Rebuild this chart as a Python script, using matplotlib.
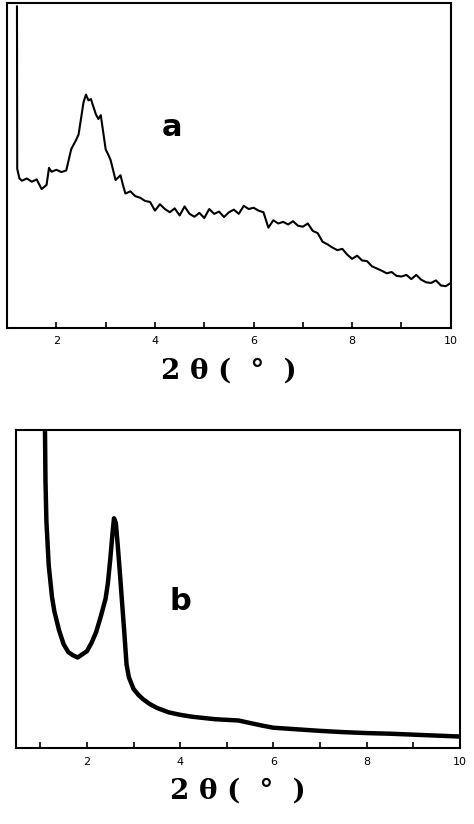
import matplotlib
matplotlib.use("Agg")
import matplotlib.pyplot as plt

# pattern a (intensity, arbitrary units 0-100)
xa = [1.20, 1.205, 1.25, 1.3, 1.4, 1.5, 1.6, 1.7, 1.8, 1.85, 1.9, 2.0, 2.1, 2.2, 2.3, 2.4, 2.45,
      2.55, 2.6, 2.65, 2.7, 2.8, 2.85, 2.9, 3.0, 3.05, 3.1, 3.2, 3.3, 3.35, 3.4, 3.5, 3.6, 3.7,
      3.8, 3.9, 4.0, 4.1, 4.2, 4.3, 4.4, 4.5, 4.6, 4.7, 4.8, 4.9, 5.0, 5.1, 5.2, 5.3, 5.4, 5.5,
      5.6, 5.7, 5.8, 5.9, 6.0, 6.1, 6.2, 6.3, 6.4, 6.5, 6.6, 6.7, 6.8, 6.9, 7.0, 7.1, 7.2, 7.3,
      7.4, 7.5, 7.6, 7.7, 7.8, 7.9, 8.0, 8.1, 8.2, 8.3, 8.4, 8.5, 8.6, 8.7, 8.8, 8.9, 9.0, 9.1,
      9.2, 9.3, 9.4, 9.5, 9.6, 9.7, 9.8, 9.9, 10.0]
ya = [100, 49.5, 46.5, 45.8, 46.5, 45.5, 46.2, 43.2, 44.5, 49.8, 48.6, 49.2, 48.5, 49.0, 55.6, 58.5, 60.2,
      70.2, 72.6, 70.8, 71.2, 66.5, 65.0, 66.2, 55.5, 54.0, 52.2, 46.0, 47.5, 44.5, 41.8, 42.5, 41.0, 40.5,
      39.5, 39.2, 36.5, 38.5, 37.0, 36.0, 37.2, 35.0, 37.8, 35.5, 34.6, 35.8, 34.2, 37.0, 35.5, 36.2, 34.5, 36.0,
      36.8, 35.5, 38.0, 37.0, 37.4, 36.5, 36.0, 31.2, 33.5, 32.5, 33.0, 32.2, 33.2, 31.8, 31.5, 32.5, 30.2, 29.5,
      26.8, 26.0, 25.0, 24.2, 24.6, 22.8, 21.5, 22.5, 21.0, 20.8, 19.2, 18.5, 17.8, 17.0, 17.4, 16.2, 16.0, 16.5,
      15.2, 16.5, 15.0, 14.2, 14.0, 14.8, 13.2, 13.0, 14.0]

# pattern b
xb = [1.10, 1.11, 1.13, 1.18, 1.25, 1.3, 1.4, 1.5, 1.6, 1.7, 1.8, 1.9, 2.0, 2.1, 2.2, 2.3, 2.4, 2.45,
      2.5, 2.55, 2.58, 2.62, 2.66, 2.7, 2.75, 2.8, 2.85, 2.9, 3.0, 3.1, 3.2, 3.35, 3.5, 3.75, 4.0,
      4.25, 4.5, 4.75, 5.0, 5.25, 5.5, 5.75, 6.0, 6.5, 7.0, 7.5, 8.0, 8.5, 9.0, 9.5, 10.0]
yb = [100, 85, 72, 58, 48, 43.5, 37.5, 33.0, 30.5, 29.5, 28.8, 29.8, 30.8, 33.5, 37.0, 42.0, 47.5, 52.5,
      60.0, 68.5, 73.0, 71.5, 64.5, 57.0, 47.0, 37.0, 26.5, 22.5, 18.8, 17.0, 15.6, 14.0, 12.8, 11.4, 10.6,
      10.0, 9.6, 9.2, 9.0, 8.8, 8.0, 7.2, 6.5, 6.0, 5.5, 5.1, 4.8, 4.6, 4.3, 4.0, 3.7]

fig = plt.figure(figsize=(4.74, 8.24), dpi=100)
ax1 = fig.add_axes([0.015, 0.602, 0.936, 0.394])
ax2 = fig.add_axes([0.034, 0.092, 0.936, 0.386])

ax1.plot(xa, ya, color="black", lw=1.5)
ax1.set_xlim(1.0, 10.0)
ax1.set_ylim(0, 101)
ax1.text(4.35, 58, "a", fontsize=22, fontweight="bold", ha="center", va="bottom")

ax2.plot(xb, yb, color="black", lw=3.2)
ax2.set_xlim(0.48, 10.0)
ax2.set_ylim(0, 101)
ax2.text(4.0, 42, "b", fontsize=22, fontweight="bold", ha="center", va="bottom")

for ax, minors in ((ax1, [3, 5, 7, 9]), (ax2, [1, 3, 5, 7, 9])):
    ax.set_xticks([2, 4, 6, 8, 10])
    ax.set_xticklabels(["2", "4", "6", "8", "10"], fontsize=8)
    ax.set_xticks(minors, minor=True)
    ax.tick_params(axis="x", which="both", direction="in", length=4, width=1.2, pad=6)
    ax.set_yticks([])
    for sp in ax.spines.values():
        sp.set_linewidth(1.5)
    ax.set_xlabel("2 θ (  °  )", fontsize=20, fontweight="bold", family="DejaVu Serif", labelpad=8)

plt.savefig("out.png", dpi=100)
